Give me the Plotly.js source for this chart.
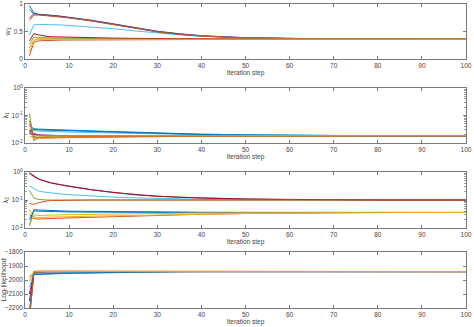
<!DOCTYPE html>
<html><head><meta charset="utf-8">
<script src="https://cdn.plot.ly/plotly-3.0.1.min.js"></script>
<style>html,body{margin:0;padding:0;background:#fff}#chart{width:474px;height:327px}</style>
</head><body><div id="chart"></div>
<script>
// Iteration steps sampled
const steps = [1,2,3,4,5,6,8,10,15,20,25,30,35,40,50,60,70,80,90,100];
const xTickVals = [0,10,20,30,40,50,60,70,80,90,100];
const xTitle = "Iteration step";
const seriesColors = ["#0072BD","#D95319","#EDB120","#7E2F8E","#77AC30","#4DBEEE","#A2142F","#0072BD","#D95319","#EDB120"];

const w1Values = [
  [0.97,0.84,0.81,0.80,0.795,0.79,0.775,0.755,0.70,0.635,0.565,0.50,0.455,0.42,0.385,0.37,0.364,0.361,0.36,0.36],
  [0.06,0.30,0.33,0.335,0.34,0.34,0.343,0.345,0.348,0.35,0.352,0.354,0.355,0.356,0.358,0.359,0.36,0.36,0.36,0.36],
  [0.20,0.35,0.37,0.372,0.372,0.371,0.37,0.369,0.367,0.365,0.364,0.363,0.362,0.362,0.361,0.36,0.36,0.36,0.36,0.36],
  [0.74,0.83,0.815,0.805,0.80,0.795,0.78,0.76,0.705,0.64,0.57,0.505,0.46,0.425,0.388,0.372,0.365,0.362,0.36,0.36],
  [0.27,0.40,0.39,0.385,0.382,0.38,0.378,0.376,0.372,0.369,0.367,0.365,0.364,0.363,0.362,0.361,0.36,0.36,0.36,0.36],
  [0.44,0.62,0.63,0.63,0.628,0.625,0.62,0.61,0.585,0.55,0.51,0.47,0.44,0.415,0.385,0.37,0.364,0.361,0.36,0.36],
  [0.33,0.46,0.44,0.42,0.41,0.405,0.40,0.395,0.387,0.38,0.375,0.371,0.368,0.366,0.363,0.361,0.36,0.36,0.36,0.36],
  [0.90,0.82,0.805,0.795,0.79,0.785,0.77,0.75,0.695,0.63,0.56,0.495,0.45,0.417,0.383,0.369,0.363,0.361,0.36,0.36],
  [0.70,0.80,0.80,0.792,0.787,0.782,0.767,0.748,0.692,0.628,0.558,0.493,0.448,0.416,0.382,0.368,0.363,0.36,0.36,0.36],
  [0.13,0.34,0.355,0.358,0.36,0.36,0.36,0.36,0.36,0.36,0.36,0.36,0.36,0.36,0.36,0.36,0.36,0.36,0.36,0.36]
];

const lambda1Values = [
  [0.045,0.033,0.032,0.0315,0.031,0.0305,0.030,0.029,0.0275,0.026,0.0245,0.023,0.022,0.021,0.0198,0.019,0.0186,0.0184,0.0183,0.0183],
  [0.028,0.0155,0.015,0.015,0.0152,0.0153,0.0155,0.0157,0.016,0.0165,0.0168,0.017,0.0173,0.0175,0.0178,0.018,0.0181,0.0182,0.0183,0.0183],
  [0.04,0.013,0.0145,0.015,0.0155,0.016,0.0163,0.0165,0.017,0.0173,0.0175,0.0177,0.0178,0.0179,0.018,0.0181,0.0182,0.0183,0.0183,0.0183],
  [0.03,0.022,0.02,0.0195,0.019,0.019,0.0188,0.0187,0.0186,0.0185,0.0185,0.0184,0.0184,0.0184,0.0183,0.0183,0.0183,0.0183,0.0183,0.0183],
  [0.12,0.012,0.016,0.017,0.0172,0.0175,0.0177,0.0178,0.018,0.018,0.0181,0.0181,0.0182,0.0182,0.0183,0.0183,0.0183,0.0183,0.0183,0.0183],
  [0.05,0.028,0.027,0.0265,0.026,0.0258,0.0255,0.025,0.024,0.023,0.022,0.021,0.0205,0.02,0.019,0.0186,0.0184,0.0183,0.0183,0.0183],
  [0.022,0.02,0.019,0.0188,0.0187,0.0186,0.0185,0.0185,0.0184,0.0184,0.0184,0.0183,0.0183,0.0183,0.0183,0.0183,0.0183,0.0183,0.0183,0.0183],
  [0.025,0.031,0.030,0.0298,0.0295,0.029,0.0285,0.028,0.0265,0.025,0.0235,0.0222,0.0212,0.0204,0.0194,0.0188,0.0185,0.0184,0.0183,0.0183],
  [0.065,0.017,0.016,0.016,0.0162,0.0164,0.0166,0.0168,0.0171,0.0174,0.0176,0.0178,0.0179,0.018,0.0181,0.0182,0.0183,0.0183,0.0183,0.0183],
  [0.016,0.019,0.018,0.0182,0.0182,0.0183,0.0183,0.0183,0.0183,0.0183,0.0183,0.0183,0.0183,0.0183,0.0183,0.0183,0.0183,0.0183,0.0183,0.0183]
];

const lambda2Values = [
  [0.012,0.045,0.044,0.043,0.042,0.042,0.041,0.040,0.039,0.038,0.0375,0.037,0.0368,0.0365,0.0362,0.036,0.036,0.036,0.036,0.036],
  [0.03,0.022,0.021,0.021,0.0215,0.022,0.0225,0.023,0.024,0.0255,0.027,0.0285,0.030,0.031,0.033,0.0345,0.0355,0.036,0.036,0.036],
  [0.045,0.025,0.024,0.024,0.0242,0.0245,0.025,0.0255,0.0265,0.0275,0.0285,0.0295,0.0305,0.0315,0.033,0.0345,0.0355,0.036,0.036,0.036],
  [0.95,0.72,0.58,0.50,0.45,0.41,0.355,0.31,0.235,0.185,0.155,0.137,0.126,0.118,0.109,0.104,0.102,0.101,0.10,0.10],
  [0.22,0.12,0.105,0.10,0.10,0.10,0.10,0.10,0.10,0.10,0.10,0.10,0.10,0.10,0.10,0.10,0.10,0.10,0.10,0.10],
  [0.32,0.25,0.21,0.195,0.185,0.178,0.165,0.155,0.138,0.127,0.119,0.113,0.109,0.106,0.103,0.101,0.10,0.10,0.10,0.10],
  [0.90,0.68,0.56,0.49,0.44,0.40,0.35,0.305,0.232,0.183,0.153,0.136,0.125,0.117,0.108,0.104,0.102,0.10,0.10,0.10],
  [0.02,0.041,0.040,0.0395,0.039,0.0385,0.038,0.0375,0.037,0.0365,0.0362,0.036,0.036,0.036,0.036,0.036,0.036,0.036,0.036,0.036],
  [0.075,0.07,0.08,0.088,0.093,0.096,0.098,0.099,0.10,0.10,0.10,0.10,0.10,0.10,0.10,0.10,0.10,0.10,0.10,0.10],
  [0.012,0.03,0.028,0.028,0.0285,0.029,0.0295,0.030,0.031,0.032,0.0328,0.0335,0.034,0.0345,0.035,0.0355,0.036,0.036,0.036,0.036]
];

const logLikValues = [
  [-2260,-1962,-1960,-1958,-1957,-1956,-1954,-1952,-1949,-1946,-1944,-1942,-1941,-1940,-1940,-1940,-1940,-1940,-1940,-1940],
  [-2240,-1938,-1937,-1937,-1937,-1938,-1938,-1939,-1939,-1940,-1940,-1940,-1940,-1940,-1940,-1940,-1940,-1940,-1940,-1940],
  [-2010,-1945,-1942,-1941,-1940,-1940,-1940,-1940,-1940,-1940,-1940,-1940,-1940,-1940,-1940,-1940,-1940,-1940,-1940,-1940],
  [-2100,-1948,-1944,-1942,-1941,-1940,-1940,-1940,-1940,-1940,-1940,-1940,-1940,-1940,-1940,-1940,-1940,-1940,-1940,-1940],
  [-1975,-1950,-1945,-1942,-1941,-1940,-1940,-1940,-1940,-1940,-1940,-1940,-1940,-1940,-1940,-1940,-1940,-1940,-1940,-1940],
  [-2050,-1955,-1952,-1950,-1949,-1948,-1946,-1945,-1943,-1942,-1941,-1940,-1940,-1940,-1940,-1940,-1940,-1940,-1940,-1940],
  [-2150,-1945,-1942,-1941,-1940,-1940,-1940,-1940,-1940,-1940,-1940,-1940,-1940,-1940,-1940,-1940,-1940,-1940,-1940,-1940],
  [-2230,-1960,-1958,-1956,-1955,-1954,-1952,-1950,-1947,-1944,-1942,-1941,-1940,-1940,-1940,-1940,-1940,-1940,-1940,-1940],
  [-2300,-1940,-1938,-1938,-1939,-1939,-1940,-1940,-1940,-1940,-1940,-1940,-1940,-1940,-1940,-1940,-1940,-1940,-1940,-1940],
  [-1990,-1942,-1940,-1940,-1940,-1940,-1940,-1940,-1940,-1940,-1940,-1940,-1940,-1940,-1940,-1940,-1940,-1940,-1940,-1940]
];

const w1TickVals = [0,0.5,1];
const w1TickText = ["0","0.5","1"];
const logTickVals = [0.01,0.1,1];
const logTickText = ["10<sup>-2</sup>","10<sup>-1</sup>","10<sup>0</sup>"];
const logMinorVals = [0.02,0.03,0.04,0.05,0.06,0.07,0.08,0.09,0.2,0.3,0.4,0.5,0.6,0.7,0.8,0.9];
const llTickVals = [-2200,-2100,-2000,-1900,-1800];

const panels = [
  {vals: w1Values, title: "w<sub>1</sub>"},
  {vals: lambda1Values, title: "λ<sub>1</sub>"},
  {vals: lambda2Values, title: "λ<sub>2</sub>"},
  {vals: logLikValues, title: "Log-likelihood"}
];

const traces = [];
panels.forEach((p, pi) => {
  const sfx = pi === 0 ? "" : String(pi + 1);
  p.vals.forEach((v, si) => {
    traces.push({
      x: steps, y: v, type: "scatter", mode: "lines",
      xaxis: "x" + sfx, yaxis: "y" + sfx,
      line: {color: seriesColors[si], width: 1},
      hoverinfo: "skip", showlegend: false,
      cliponaxis: true
    });
  });
});

const axisColor = "#5a5a5a";
const fontFam = "Liberation Sans, Arial, sans-serif";
const tickFont = {family: fontFam, size: 6.5, color: "#444"};

function xAxis(anchor) {
  return {
    anchor: anchor, domain: [0, 1], range: [0, 100],
    tickmode: "array", tickvals: xTickVals, ticks: "inside", ticklen: 3, tickwidth: 0.8,
    tickcolor: axisColor, showline: true, linecolor: axisColor, linewidth: 0.8,
    mirror: "ticks", showgrid: false, zeroline: false, tickfont: tickFont,
    title: {text: xTitle, font: {family: fontFam, size: 6.5, color: "#444"}, standoff: 2},
    automargin: false
  };
}
function yBase(anchor, domain, title) {
  return {
    anchor: anchor, domain: domain, ticks: "inside", ticklen: 3, tickwidth: 0.8,
    tickcolor: axisColor, showline: true, linecolor: axisColor, linewidth: 0.8,
    mirror: "ticks", showgrid: false, zeroline: false, tickfont: tickFont,
    title: {text: title, font: {family: fontFam, size: 7, color: "#444"}, standoff: 2},
    automargin: false
  };
}

const dom = [[0.819, 1.0], [0.5428, 0.7237], [0.263, 0.4474], [0.0, 0.1842]];

const y1 = Object.assign(yBase("x", dom[0], panels[0].title), {range: [0, 1], tickmode: "array", tickvals: w1TickVals, ticktext: w1TickText});
const minorCfg = {tickmode: "array", tickvals: logMinorVals, ticks: "inside", ticklen: 1.8, tickcolor: axisColor, tickwidth: 0.6};
const y2 = Object.assign(yBase("x2", dom[1], panels[1].title), {type: "log", range: [-2, 0], tickmode: "array", tickvals: logTickVals, ticktext: logTickText, minor: minorCfg});
const y3 = Object.assign(yBase("x3", dom[2], panels[2].title), {type: "log", range: [-2, 0], tickmode: "array", tickvals: logTickVals, ticktext: logTickText, minor: minorCfg});
const y4 = Object.assign(yBase("x4", dom[3], panels[3].title), {range: [-2200, -1800], tickmode: "array", tickvals: llTickVals});

const layout = {
  width: 474, height: 327,
  margin: {l: 25, r: 8, t: 4, b: 19},
  paper_bgcolor: "#fff", plot_bgcolor: "#fff",
  showlegend: false,
  xaxis: xAxis("y"), xaxis2: xAxis("y2"), xaxis3: xAxis("y3"), xaxis4: xAxis("y4"),
  yaxis: y1, yaxis2: y2, yaxis3: y3, yaxis4: y4
};

Plotly.newPlot("chart", traces, layout, {staticPlot: true, displayModeBar: false});
</script>
</body></html>
